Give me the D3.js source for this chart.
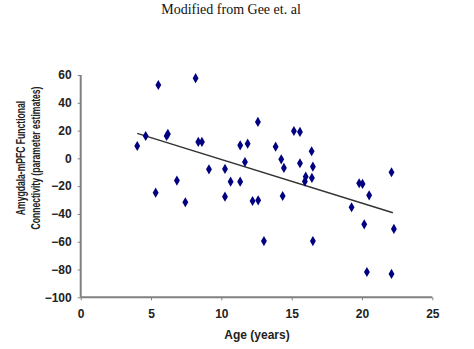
<!DOCTYPE html>
<html><head><meta charset="utf-8">
<script src="https://cdn.jsdelivr.net/npm/d3@7"></script>
<style>body{margin:0;background:#fff}</style>
</head><body>
<svg id="chart" width="474" height="349"></svg>
<script>
const title = "Modified from Gee et. al";
const xLabel = "Age (years)";
const yLabelLines = ["Amygdala-mPFC Functional", "Connectivity (parameter estimates)"];
const xTicks = [0, 5, 10, 15, 20, 25];
const yTicks = [60, 40, 20, 0, -20, -40, -60, -80, -100];
const ages = [4.02, 4.62, 5.52, 6.11, 6.2, 6.84, 5.33, 7.44, 8.17, 8.36, 8.62, 9.12, 10.26, 10.26, 10.66,
  11.34, 11.34, 11.87, 11.68, 12.22, 12.62, 12.6, 13.03, 13.86, 14.26, 14.45, 14.36, 15.16, 15.59, 15.59,
  16.0, 15.94, 16.42, 16.51, 16.44, 16.51, 19.26, 19.8, 20.04, 20.16, 20.51, 20.35, 22.1, 22.27, 22.1];
const connectivity = [8.9, 16.1, 52.8, 16.1, 17.6, -16, -24.7, -31.6, 57.7, 11.8, 11.8, -7.9, -7.6, -27.6, -16.8,
  -16.8, 9.4, 10.6, -2.6, -30.7, -30.2, 26.2, -59.5, 8.4, -0.7, -6.9, -27.1, 19.7, 19.0, -3.5,
  -13.2, -16.6, 5.1, -6, -14.1, -59.5, -35.2, -17.9, -18.4, -47.5, -26.6, -81.8, -10, -50.8, -83.2];
const fitX = [4.02, 22.2];
const fitY = [18.0, -39.1];

const svg = d3.select("#chart");
const x = d3.scaleLinear().domain([0, 25]).range([80.7, 432.3]);
const y = d3.scaleLinear().domain([-100, 60]).range([297.3, 75]);

svg.append("text").attr("x", 231).attr("y", 14)
  .attr("text-anchor", "middle").attr("font-family", "Liberation Serif, Times New Roman, serif")
  .attr("font-size", 14).attr("fill", "#111").text(title);

const axisColor = "#808080";
const xAxis = svg.append("g").attr("transform", `translate(0,${y(-100)})`)
  .call(d3.axisBottom(x).tickValues(xTicks).tickSize(3).tickPadding(9));
const yAxis = svg.append("g").attr("transform", `translate(${x(0)},0)`)
  .call(d3.axisLeft(y).tickValues(yTicks).tickSize(3).tickPadding(6));
[xAxis, yAxis].forEach(g => {
  g.select(".domain").attr("stroke", axisColor).attr("stroke-width", 2);
  g.selectAll(".tick line").attr("stroke", axisColor);
  g.selectAll("text").attr("font-family", "Liberation Sans, Arial, sans-serif")
    .attr("font-weight", "bold").attr("font-size", 12).attr("fill", "#222");
});
xAxis.select(".domain").attr("d", `M${x(0)},0H${x(25)}`);
yAxis.select(".domain").attr("d", `M0,${y(60)}V${y(-100)}`);

svg.append("text").attr("x", 257).attr("y", 339).attr("text-anchor", "middle")
  .attr("font-family", "Liberation Sans, Arial, sans-serif").attr("font-weight", "bold")
  .attr("font-size", 12).attr("fill", "#222").text(xLabel);

const yl = svg.append("text").attr("transform", "translate(25,158) rotate(-90) scale(0.66,1)")
  .attr("text-anchor", "middle").attr("font-family", "Liberation Sans, Arial, sans-serif")
  .attr("font-weight", "bold").attr("font-size", 13).attr("fill", "#222");
yLabelLines.forEach((t, i) => yl.append("tspan").attr("x", 0).attr("dy", i ? 15 : 0).text(t));

svg.append("line")
  .attr("x1", x(fitX[0])).attr("y1", y(fitY[0])).attr("x2", x(fitX[1])).attr("y2", y(fitY[1]))
  .attr("stroke", "#333").attr("stroke-width", 1.5);

const diamond = d3.symbol().type(d3.symbolDiamond).size(30);
svg.append("g").selectAll("path").data(ages.map((a, i) => [a, connectivity[i]])).join("path")
  .attr("transform", d => `translate(${x(d[0])},${y(d[1])})`)
  .attr("d", diamond).attr("fill", "#000080");
</script>
</body></html>
